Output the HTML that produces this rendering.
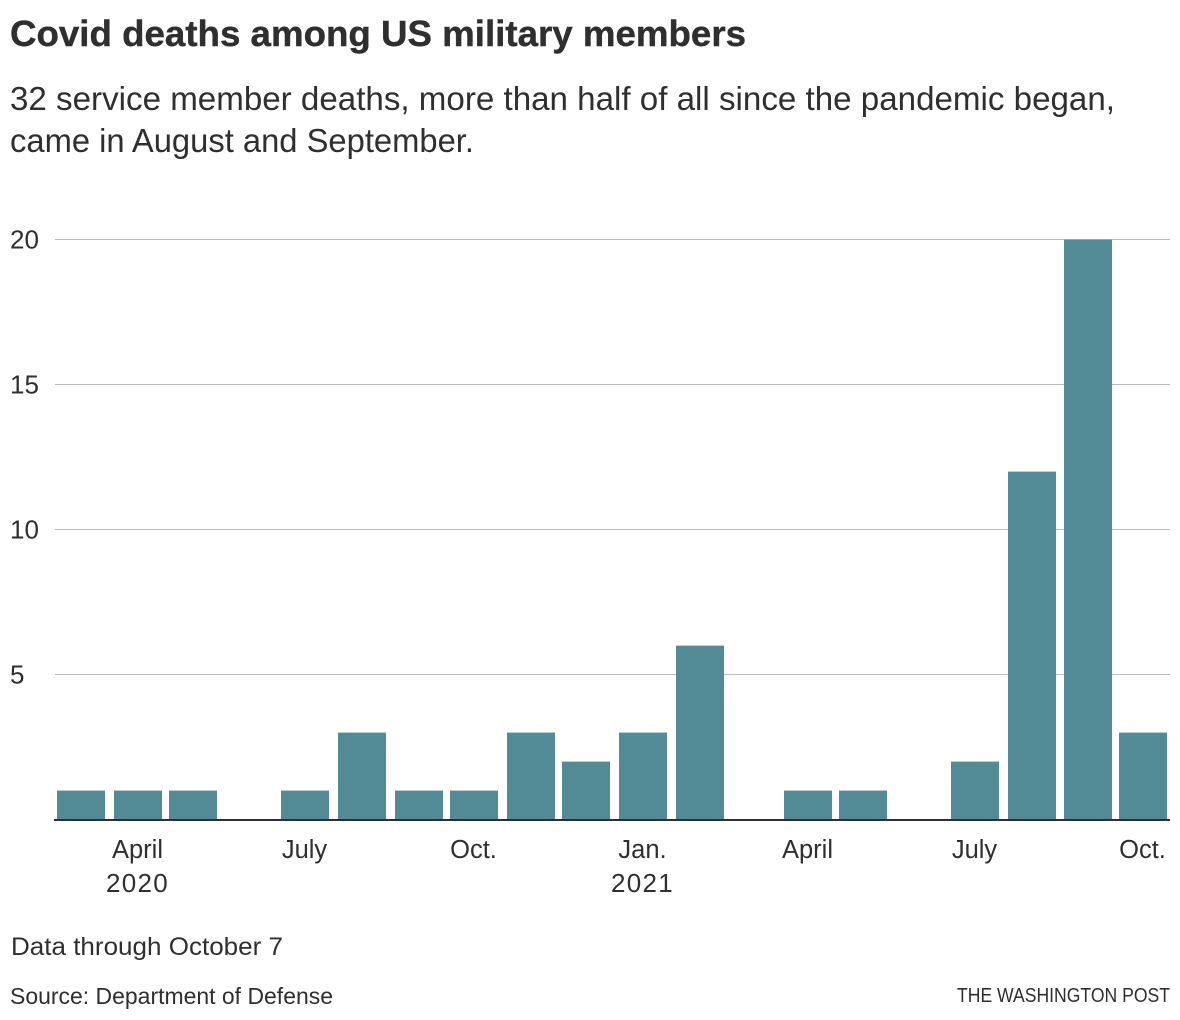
<!DOCTYPE html>
<html lang="en">
<head>
<meta charset="utf-8">
<title>Covid deaths among US military members</title>
<style>
html,body{margin:0;padding:0;background:#fff;width:1180px;height:1020px;overflow:hidden}
svg{display:block}
text{font-family:"Liberation Sans",Arial,sans-serif;fill:#2f2f2f}
</style>
</head>
<body>
<svg id="chart" width="1180" height="1020" viewBox="0 0 1180 1020" xmlns="http://www.w3.org/2000/svg">
  <rect x="0" y="0" width="1180" height="1020" fill="#ffffff"/>
  <text x="10" y="46" font-size="36" font-weight="700" stroke="#2f2f2f" stroke-width="0.4" textLength="736" lengthAdjust="spacingAndGlyphs">Covid deaths among US military members</text>
  <text x="10" y="110" font-size="33" textLength="1105" lengthAdjust="spacingAndGlyphs">32 service member deaths, more than half of all since the pandemic began,</text>
  <text x="10" y="152" font-size="33" textLength="464" lengthAdjust="spacingAndGlyphs">came in August and September.</text>
  <g id="grid"></g>
  <g id="yticks"></g>
  <g id="bars"></g>
  <rect x="54" y="819" width="1116" height="2" fill="#2f2f2f"/>
  <g id="xticks"></g>
  <text x="11" y="955" font-size="25" textLength="272" lengthAdjust="spacingAndGlyphs">Data through October 7</text>
  <text x="10" y="1004" font-size="23" textLength="323" lengthAdjust="spacingAndGlyphs">Source: Department of Defense</text>
  <text x="957" y="1002" font-size="20" textLength="213" lengthAdjust="spacingAndGlyphs">THE WASHINGTON POST</text>
</svg>
<script>
const months = ["2020-03-01","2020-04-01","2020-05-01","2020-06-01","2020-07-01","2020-08-01","2020-09-01","2020-10-01","2020-11-01","2020-12-01","2021-01-01","2021-02-01","2021-03-01","2021-04-01","2021-05-01","2021-06-01","2021-07-01","2021-08-01","2021-09-01","2021-10-01"];
const deaths = [1,1,1,0,1,3,1,1,3,2,3,6,0,1,1,0,2,12,20,3];
const yTicks = [5,10,15,20];
const xTickMonths = ["2020-04-01","2020-07-01","2020-10-01","2021-01-01","2021-04-01","2021-07-01","2021-10-01"];
const xTickLabels = ["April","July","Oct.","Jan.","April","July","Oct."];
const yearMonths = ["2020-04-01","2021-01-01"];
const yearLabels = ["2020","2021"];

const NS = "http://www.w3.org/2000/svg";
const firstDate = Date.parse(months[0]);
const lastDate = Date.parse(months[months.length - 1]);
const barWidth = 48;
function xScale(dateStr) {
  return Math.ceil(57 + (Date.parse(dateStr) - firstDate) / (lastDate - firstDate) * 1062);
}
function yScale(v) {
  return 819 - v * 29;
}
function barTop(v) {
  return Math.min(819.6 - v * 29, 819);
}
function make(tag, attrs, parent, content) {
  const el = document.createElementNS(NS, tag);
  for (const k in attrs) el.setAttribute(k, attrs[k]);
  if (content !== undefined) el.textContent = content;
  parent.appendChild(el);
  return el;
}
const grid = document.getElementById("grid");
const yticksG = document.getElementById("yticks");
const barsG = document.getElementById("bars");
const xticksG = document.getElementById("xticks");

yTicks.forEach(function (t) {
  const line = make("rect", {x: 55, y: yScale(t), width: 1115, height: 1, fill: "#bcbcbc"}, grid);
  
  
  const label = make("text", {x: 10, y: yScale(t) + 9.5, "font-size": 26}, yticksG, String(t));
  
  
});

months.forEach(function (m, i) {
  const y = barTop(deaths[i]);
  const bar = make("rect", {x: xScale(m), y: y, width: barWidth, height: 819 - y, fill: "#528a95"}, barsG);
  
  
});

xTickMonths.forEach(function (m, i) {
  const label = make("text", {x: xScale(m) + barWidth / 2 - 0.5, y: 858, "font-size": 25.5, "text-anchor": "middle"}, xticksG, xTickLabels[i]);
  
  
});

yearMonths.forEach(function (m, i) {
  const label = make("text", {x: xScale(m) + barWidth / 2 - 0.5, y: 892, "font-size": 26, "letter-spacing": 1.3, "text-anchor": "middle"}, xticksG, yearLabels[i]);
  
  
});
</script>
</body>
</html>
